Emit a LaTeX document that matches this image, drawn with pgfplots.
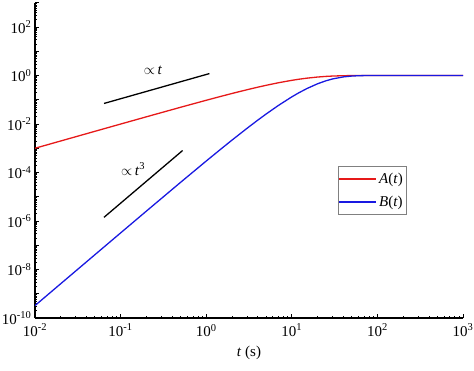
\documentclass[border=0pt]{standalone}
\usepackage{fontspec}
\setmainfont{Liberation Serif}
\usepackage{pgfplots}
\pgfplotsset{compat=1.18}
\definecolor{myred}{RGB}{230,25,25}
\definecolor{myblue}{RGB}{25,25,225}
\begin{document}
\begin{tikzpicture}
\useasboundingbox (-35pt,-52pt) rectangle (439pt,318pt);
\begin{axis}[
  at={(0,0)}, anchor=south west,
  scale only axis, width=428pt, height=315.25pt,
  xmode=log, ymode=log,
  xmin=1e-2, xmax=1e3, ymin=1e-10, ymax=1e3,
  axis x line*=bottom, axis y line*=left,
  axis line style={line width=1.2pt},
  tick align=inside,
  major tick length=4pt, minor tick length=2.5pt,
  tick style={black, line width=0.8pt},
  xtick={1e-2,1e-1,1,10,100,1000},
  xticklabels={10\textsuperscript{-2},10\textsuperscript{-1},10\textsuperscript{0},10\textsuperscript{1},10\textsuperscript{2},10\textsuperscript{3}},
  ytick={1e-10,1e-9,1e-8,1e-7,1e-6,1e-5,1e-4,1e-3,1e-2,1e-1,1,10,100,1000},
  yticklabels={10\textsuperscript{-10},,10\textsuperscript{-8},,10\textsuperscript{-6},,10\textsuperscript{-4},,10\textsuperscript{-2},,10\textsuperscript{0},,10\textsuperscript{2},},
  tick label style={font=\fontsize{15}{17}\selectfont},
  xticklabel style={yshift=-2.5pt},
  xlabel={\textit{t} (s)},
  xlabel style={font=\fontsize{15}{17}\selectfont, yshift=-3pt},
  legend style={at={(0.707,0.481)}, anchor=north west, draw=gray, fill=white,
    font=\fontsize{15}{17}\selectfont, inner sep=1pt, nodes={inner ysep=5.5pt}},
  legend cell align=left,
  legend image code/.code={\draw[#1] (0pt,0pt) -- (37pt,0pt);},
]
\addplot[myred, line width=1.3pt] coordinates {
(0.01,9.995e-4) (0.02,1.998e-3) (0.05,4.988e-3) (0.1,9.950e-3) (0.2,0.01980)
(0.5,0.04877) (1,0.09516) (1.5,0.1393) (2,0.1813) (3,0.2592) (4,0.3297)
(5,0.3935) (7,0.5034) (10,0.6321) (12,0.6988) (15,0.7769) (20,0.8647)
(25,0.9179) (30,0.9502) (40,0.9817) (50,0.9933) (60,0.99752) (70,0.99909)
(100,0.99995) (150,1) (200,1) (500,1) (1000,1)
};
\addlegendentry{\textit{A}(\textit{t})}
\addplot[myblue, line width=1.3pt] coordinates {
(0.01,3.255e-10) (0.02,2.604e-9) (0.05,4.05e-8) (0.1,3.225e-7) (0.2,2.556e-6)
(0.5,3.883e-5) (1,2.965e-4) (1.5,9.551e-4) (2,2.161e-3) (3,6.652e-3)
(4,0.014388) (5,0.025655) (7,0.058806) (10,0.13153) (12,0.19115)
(15,0.28954) (20,0.45619) (25,0.60422) (30,0.72293) (40,0.87535)
(50,0.94830) (60,0.97974) (70,0.99239) (100,0.99966) (150,1) (200,1)
(500,1) (1000,1)
};
\addlegendentry{\textit{B}(\textit{t})}
\addplot[black, line width=1.3pt, forget plot] coordinates {(0.064,0.0704) (1.09,1.2)};
\addplot[black, line width=1.3pt, forget plot] coordinates {(0.064,1.42e-6) (0.53,8.06e-4)};
\node[font=\fontsize{15}{17}\selectfont] at (axis cs:0.239,1.69) {$\propto$\,\textit{t}};
\node[font=\fontsize{15}{17}\selectfont] at (axis cs:0.14,1.39e-4) {$\propto$\,\textit{t}\textsuperscript{3}};
\end{axis}
\end{tikzpicture}
\end{document}
